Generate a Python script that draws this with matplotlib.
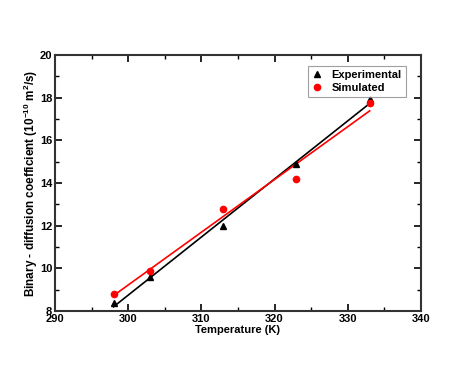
import matplotlib
matplotlib.use('Agg')
import matplotlib.pyplot as plt
import numpy as np

plt.rcParams['font.family'] = 'Liberation Sans'
plt.rcParams['font.weight'] = 'bold'
plt.rcParams['axes.labelweight'] = 'bold'
plt.rcParams['mathtext.fontset'] = 'custom'
plt.rcParams['mathtext.rm'] = 'Liberation Sans:bold'
plt.rcParams['mathtext.default'] = 'rm'

# Data
temperature = [298, 303, 313, 323, 333]
experimental = [8.38, 9.58, 12.0, 14.9, 17.92]
simulated = [8.8, 9.87, 12.8, 14.2, 17.74]

fig = plt.figure(figsize=(4.74, 3.66), dpi=100)
ax = fig.add_axes([0.116, 0.150, 0.772, 0.700])

# linear fits
xs = np.array([temperature[0], temperature[-1]])
pe = np.polyfit(temperature, experimental, 1)
ps = np.polyfit(temperature, simulated, 1)
ax.plot(xs, np.polyval(pe, xs), color='black', lw=1.2)
ax.plot(xs, np.polyval(ps, xs), color='red', lw=1.2)

ax.plot(temperature, experimental, '^', color='black', ms=4.5, label='Experimental', zorder=3)
ax.plot(temperature, simulated, 'o', color='red', ms=4.5, label='Simulated', zorder=3)

ax.set_xlim(290, 340)
ax.set_ylim(8, 20)
ax.set_xticks(range(290, 341, 10))
ax.set_yticks(range(8, 21, 2))
ax.set_xticks(range(295, 340, 10), minor=True)
ax.set_yticks(range(9, 20, 2), minor=True)
ax.tick_params(which='both', direction='in', top=True, right=True, labelsize=8, pad=2)
ax.tick_params(which='major', length=5, width=1.2)
ax.tick_params(which='minor', length=3, width=1)
for label in ax.get_xticklabels() + ax.get_yticklabels():
    label.set_fontweight('bold')
for s in ax.spines.values():
    s.set_linewidth(1.5)
    s.set_color('#333333')

ax.set_xlabel('Temperature (K)', fontsize=8, labelpad=1)
ax.set_ylabel('Binary - diffusion coefficient (10$^{-10}$ m$^{2}$/s)', fontsize=8.5, labelpad=0)

leg = ax.legend(loc='upper right', bbox_to_anchor=(0.958, 0.955), fontsize=8, frameon=True,
                fancybox=False, handlelength=1, handletextpad=0.8, borderpad=0.35,
                labelspacing=0.25, borderaxespad=0)
leg.get_frame().set_edgecolor('#888888')
leg.get_frame().set_linewidth(0.8)

fig.savefig('out.png', dpi=100)
